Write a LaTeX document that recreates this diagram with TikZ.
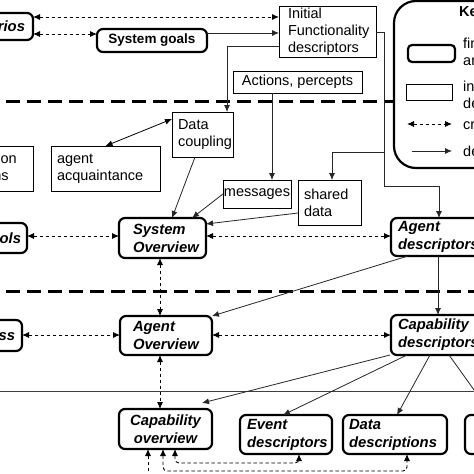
\documentclass[tikz,border=0pt]{standalone}
\usepackage{fontspec}
\setmainfont{Liberation Sans}
\usetikzlibrary{arrows.meta}
\hyphenpenalty=10000
\exhyphenpenalty=10000
\newcommand\freg{\fontsize{14.5}{17}\selectfont}
\newcommand\fbi{\fontsize{14.8}{18}\selectfont\bfseries\itshape}
\newcommand\fbold{\fontsize{13.5}{16}\selectfont\bfseries}
\begin{document}
\begin{tikzpicture}[x=1pt,y=-1pt,
  fin/.style={draw, line width=2.2pt, rounded corners=6pt, font=\fbi, inner ysep=0pt, outer sep=0pt},
  itm/.style={draw, line width=0.9pt, font=\freg, inner ysep=0pt, outer sep=0pt},
  derive/.style={-{Latex[length=7pt,width=6pt]}, line width=0.8pt, black!85},
  both/.style={{Latex[length=7pt,width=6pt]}-{Latex[length=7pt,width=6pt]}, line width=0.8pt},
  cross/.style={{Latex[length=7pt,width=6pt]}-{Latex[length=7pt,width=6pt]}, line width=0.9pt, dash pattern=on 3.5pt off 2.5pt},
  phase/.style={line width=3pt, dash pattern=on 14pt off 7pt, dash phase=-6pt},
  septhin/.style={line width=0.9pt, black!75}]
\useasboundingbox (0,0) rectangle (474,474);
\fill[white] (0,0) rectangle (474,474);
\clip (0,0) rectangle (474,474);

% final design artefacts
\node[fin, align=right, text width=77pt, inner xsep=8pt, minimum height=27pt] (scen) at (-13.5,26.5) {Scenarios};
\node[fin, font=\fbold, minimum width=110pt, minimum height=23pt, inner xsep=2pt] (sysgoals) at (152,40.5) {System goals};
\node[fin, align=right, text width=75pt, inner xsep=6pt, minimum height=30pt] (prot) at (-16.5,238) {Protocols};
\node[fin, align=left, text width=59pt, inner xsep=14pt, minimum height=40pt] (sysov) at (162.5,238) {System\\Overview};
\node[fin, align=left, text width=83pt, inner xsep=7pt, minimum height=38pt] (agdesc) at (439.5,237) {Agent\\descriptors};
\node[fin, align=right, text width=68pt, inner xsep=7pt, minimum height=31pt] (proc) at (-19,335.5) {Process};
\node[fin, align=left, text width=66pt, inner xsep=13pt, minimum height=39pt] (agov) at (166,335.5) {Agent\\Overview};
\node[fin, align=left, text width=83pt, inner xsep=7pt, minimum height=40pt] (capdesc) at (439.5,335) {Capability\\descriptors};
\node[fin, align=center, text width=83pt, inner xsep=5pt, minimum height=40pt] (capov) at (165.5,429) {Capability\\overview};
\node[fin, align=left, text width=78pt, inner xsep=7pt, minimum height=39pt] (evdesc) at (286,434.5) {Event\\descriptors};
\node[fin, align=left, text width=92pt, inner xsep=6pt, minimum height=39pt] (datadesc) at (395,434.5) {Data\\descriptions};
\node[fin, minimum width=95pt, minimum height=39pt] (rbox) at (512.5,434.5) {};

% intermediate design artefacts
\node[itm, align=left, text width=79pt, inner xsep=9pt, minimum height=51pt] (ifd) at (327.5,31.5) {Initial\\Functionality\\descriptors};
\node[itm, minimum width=129pt, minimum height=22pt, inner xsep=2pt] (actions) at (297.5,82) {Actions, percepts};
\node[itm, align=left, text width=49pt, inner xsep=6pt, minimum height=45pt] (datacoup) at (202.5,134.5) {Data\\coupling};
\node[itm, align=left, text width=78pt, inner xsep=6pt, minimum height=45pt] (intdiag) at (-12,168.5) {Interaction\\diagrams};
\node[itm, align=left, text width=97pt, inner xsep=6pt, minimum height=45pt] (agacq) at (105.5,168.5) {agent\\acquaintance};
\node[itm, minimum width=68pt, minimum height=28pt, inner xsep=1pt] (messages) at (257,194) {messages};
\node[itm, align=left, text width=51pt, inner xsep=6pt, minimum height=45pt] (shared) at (329.5,202.5) {shared\\data};

% key
\node[draw, line width=2.2pt, rounded corners=22pt, minimum width=176pt, minimum height=167pt, outer sep=0pt] (key) at (482,84.5) {};
\node[anchor=west, font=\fontsize{14.5}{17}\selectfont\bfseries, inner sep=0pt] (keyt) at (459,13) {Key};
\node[fin, minimum width=47pt, minimum height=17pt, rounded corners=4pt] (kfin) at (431.5,53.5) {};
\node[itm, minimum width=46pt, minimum height=16pt] (kitm) at (429.5,92) {};
\node[anchor=west, font=\freg, align=left, inner sep=0pt] (kfint) at (463,51.5) {final design\\artefacts};
\node[anchor=west, font=\freg, align=left, inner sep=0pt] (kitmt) at (463,96) {intermediate\\design artefacts};
\node[anchor=west, font=\freg, inner sep=0pt] (kct) at (463,124) {crosscheck};
\node[anchor=west, font=\freg, inner sep=0pt] (kdt) at (463,151) {derives};
\coordinate (kc1) at (407,124); \coordinate (kc2) at (452,124);
\draw[cross] (kc1) -- (kc2);
\coordinate (kd1) at (412,151); \coordinate (kd2) at (452,151);
\draw[derive] (kd1) -- (kd2);

% phase separators
\coordinate (s1a) at (0,101);
\draw[phase] (s1a) -- (key.west |- s1a);
\coordinate (s2a) at (0,291); \coordinate (s2b) at (474,291);
\draw[phase] (s2a) -- (s2b);
\coordinate (s3a) at (0,391); \coordinate (s3b) at (474,391);
\draw[septhin] (s3a) -- (s3b);

% connectors
\draw[cross] (scen.east |- 0,17) -- (ifd.west |- 0,17);
\draw[cross] (scen.east |- 0,34) -- (sysgoals.west |- 0,34);
\draw[derive] (sysgoals.east |- 0,33) -- (ifd.west |- 0,33);
\draw[derive] (ifd.west |- 0,46) -| (datacoup.north -| 227,0);
\draw[derive] (actions.south -| 272,0) -- (messages.north -| 272,0);
\coordinate (j1) at (384,152);
\draw[derive] (ifd.east |- 0,32) -| (384,186) -| (agdesc.north -| 439,0);
\draw[derive] (j1) -| (shared.north -| 332,0);
\draw[both] (agacq.north) -- (datacoup.west |- 0,119);
\draw[derive] (datacoup.south -| 195,0) -- (sysov.north -| 172,0);
\draw[derive] (messages.west) -- (sysov.north -| 192,0);
\draw[derive] (shared.west |- 0,213) -- (sysov.east |- 0,224);
\draw[cross] (prot.east |- 0,236) -- (sysov.west |- 0,236);
\draw[cross] (sysov.east |- 0,236) -- (agdesc.west |- 0,236);
\draw[cross] (sysov.south -| 160,0) -- (agov.north -| 160,0);
\draw[derive] (agdesc.south -| 408,0) -- (agov.north east);
\draw[derive] (agdesc.south -| 438,0) -- (capdesc.north -| 438,0);
\draw[cross] (proc.east |- 0,335) -- (agov.west |- 0,335);
\draw[cross] (agov.east |- 0,335) -- (capdesc.west |- 0,335);
\draw[cross] (agov.south -| 160,0) -- (capov.north -| 160,0);
\draw[derive] (capdesc.south -| 390,0) -- ([shift={(-10pt,6pt)}]capov.north east);
\draw[derive] (capdesc.south -| 407,0) -- (evdesc.north -| 283,0);
\draw[derive] (capdesc.south -| 430,0) -- (datadesc.north -| 397,0);
\draw[derive] (capdesc.south -| 449,0) -- (rbox.north -| 492,0);
\draw[cross, rounded corners=4pt] (capov.south -| 175,0) |- (299,463) -- (evdesc.south -| 299,0);
\draw[cross, rounded corners=4pt] (capov.south -| 163,0) |- (407,471) -- (datadesc.south -| 407,0);
\coordinate (bot) at (148,490);
\draw[cross] (bot) -- (capov.south -| 148,0);
\end{tikzpicture}
\end{document}
